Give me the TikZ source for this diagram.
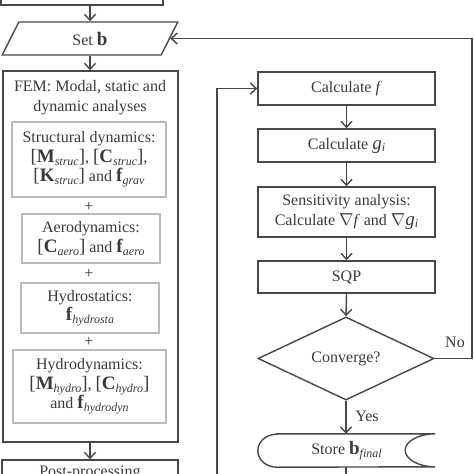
\documentclass[tikz,border=0pt]{standalone}
\usepackage{fontspec}
\setmainfont{Liberation Serif}
\usetikzlibrary{shapes.geometric,arrows.meta}

\definecolor{linecol}{HTML}{474747}
\definecolor{txtcol}{HTML}{3A3A3A}
\definecolor{subcol}{HTML}{BBBBBB}

\newcommand{\sub}[1]{\raisebox{-0.35ex}{\fontsize{12}{12}\selectfont\textit{#1}}}
\newcommand{\bigt}[1]{{\fontsize{19}{19}\selectfont #1}}
\newcommand{\vect}[1]{\bigt{\textbf{#1}}}
\newcommand{\mtx}[2]{\bigt{[\textbf{#1}}\sub{#2}\bigt{]}}

\tikzset{
  box/.style={draw=linecol, line width=1.4pt, inner sep=0pt, align=center, text=txtcol},
  subbox/.style={draw=subcol, line width=1.2pt, inner sep=0pt, align=center, text=txtcol},
  arr/.style={draw=linecol, line width=1.4pt, -{Straight Barb[length=6pt,width=11pt,line width=1.4pt]}},
  plain/.style={draw=linecol, line width=1.4pt},
}

\begin{document}
\begin{tikzpicture}[x=1pt,y=-1pt,font=\fontsize{16}{19.5}\selectfont]
\useasboundingbox (0,0) rectangle (474,474);
\clip (0,0) rectangle (474,474);

% left column
\node [box, minimum width=162, minimum height=34] (top) at (82,-12) {};
\node [box, trapezium, trapezium left angle=73, trapezium right angle=107,
  trapezium stretches=true, minimum width=176, minimum height=33] (setb) at (90,38.5) {Set \vect{b}};
\node [box, minimum width=175, minimum height=371] (fem) at (90.5,256.5) {};
\node [text=txtcol, align=center] (femtitle) at (90,97.5) {FEM: Modal, static and\\dynamic analyses};

\node [subbox, minimum width=154, minimum height=75] (struc) at (89,159.5)
  {Structural dynamics:\\ \mtx{M}{struc}, \mtx{C}{struc},\\ \mtx{K}{struc} and \vect{f}\sub{grav}};
\node [text=txtcol] (plusa) at (89,207) {+};
\node [subbox, minimum width=138, minimum height=49] (aero) at (91,238.5)
  {Aerodynamics:\\ \mtx{C}{aero} and \vect{f}\sub{aero}};
\node [text=txtcol] (plusb) at (89,274) {+};
\node [subbox, minimum width=138, minimum height=50] (hsta) at (90,308)
  {Hydrostatics:\\ \vect{f}\sub{hydrosta}};
\node [text=txtcol] (plusc) at (89,342) {+};
\node [subbox, minimum width=153, minimum height=73] (hdyn) at (89.5,386.5)
  {Hydrodynamics:\\ \mtx{M}{hydro}, \mtx{C}{hydro}\\ and \vect{f}\sub{hydrodyn}};

\node [box, minimum width=176, minimum height=26] (post) at (90,473) {Post-processing};

% right column
\node [box, minimum width=177, minimum height=33] (calcf) at (346.5,88.5) {Calculate \textit{f}};
\node [box, minimum width=177, minimum height=33] (calcg) at (346.5,145.5) {Calculate \bigt{\textit{g}}\sub{i}};
\node [box, minimum width=177, minimum height=50] (sens) at (346.5,212)
  {Sensitivity analysis:\\ Calculate $\nabla$\textit{f} and $\nabla$\bigt{\textit{g}}\sub{i}};
\node [box, minimum width=177, minimum height=32] (sqp) at (346.5,277) {SQP};
\node [box, diamond, minimum width=176, minimum height=81] (conv) at (346,358.5) {Converge?};
\node [text=txtcol, minimum width=177, minimum height=33, inner sep=0pt] (store) at (346.5,450.5)
  {Store \vect{b}\sub{final}};

\node [text=txtcol] (yes) at (367,416) {Yes};
\node [text=txtcol] (no) at (455,342) {No};

\coordinate (ret) at (472,0);
\coordinate (loopend) at (217,495);

% store shape
\draw [plain] ([xshift=19pt]store.north west) -- (store.north east)
  arc [start angle=-90, end angle=-270, x radius=30, y radius=16.5]
  -- ([xshift=19pt]store.south west)
  arc [start angle=90, end angle=270, x radius=19, y radius=16.5] -- cycle;

% connectors
\draw [arr] (top.south -| setb.north) -- (setb.north);
\draw [arr] (setb.south) -- (fem.north -| setb.south);
\draw [arr] (fem.south -| setb.south) -- (post.north -| setb.south);
\draw [arr] (calcf) -- (calcg);
\draw [arr] (calcg) -- (sens);
\draw [arr] (sens) -- (sqp);
\draw [arr] (sqp.south) -- (conv.north);
\draw [arr] (conv.south) -- (store.north -| conv.south);
\draw [arr] (conv.east) -| (setb.east -| ret) -- (setb.east);
\draw [arr] (loopend) |- (calcf.west);
\draw [plain] (store.south -| conv.south) -- ++(0,30);

\end{tikzpicture}
\end{document}
